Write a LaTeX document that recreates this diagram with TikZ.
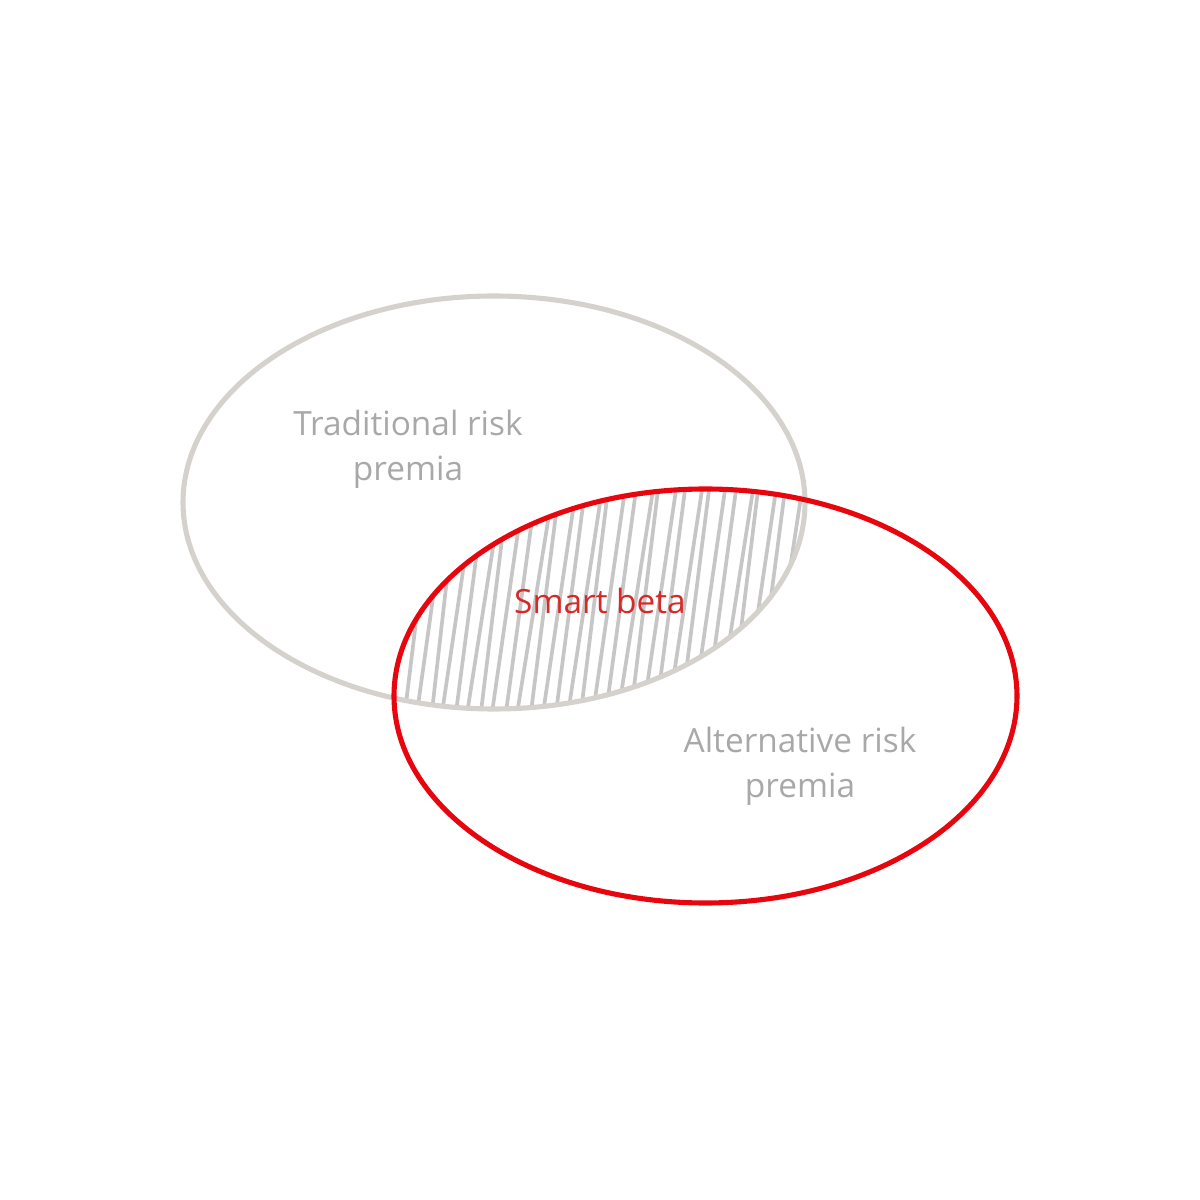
\documentclass[tikz,border=0pt]{standalone}
\usepackage{fontspec}
\setmainfont{Open Sans}
\definecolor{ringgray}{HTML}{D5D2CD}
\definecolor{hatchgray}{HTML}{C6C6C6}
\definecolor{labelgray}{HTML}{A8A8A8}
\definecolor{ringred}{HTML}{E8060E}
\definecolor{labelred}{HTML}{D42A2A}
\tikzset{
  ring/.style = {line width = 1.45pt},
  hatchline/.style = {hatchgray, line width = 1.05pt, line cap = round},
  setlabel/.style = {align = center, font = \fontsize{9.5}{12.8}\selectfont}
}
\begin{document}
\begin{tikzpicture}
  \useasboundingbox (0,0) rectangle (12,12);

  \coordinate (trad) at (4.94,6.975);
  \coordinate (alt) at (7.055,5.04);

  % hatching of the overlap
  \begin{scope}
    \clip (trad) ellipse [x radius = 3.11, y radius = 2.065];
    \clip (alt) ellipse [x radius = 3.115, y radius = 2.07];
    \foreach \x/\d in {4.10/0.22,4.22/0.26,4.37/0.20,4.47/0.28,4.61/0.24,4.72/0.30,
                       4.86/0.22,4.97/0.27,5.11/0.25,5.22/0.31,5.36/0.23,5.48/0.28,
                       5.61/0.24,5.73/0.29,5.86/0.22,5.98/0.27,6.11/0.25,6.23/0.30,
                       6.36/0.22,6.48/0.28,6.61/0.24,6.73/0.29,6.86/0.23,6.98/0.27,
                       7.11/0.25,7.23/0.30,7.36/0.22,7.48/0.28,7.61/0.24,7.73/0.29,
                       7.86/0.23,7.98/0.27,8.11/0.25,8.23/0.28}
      \draw[hatchline] (\x+\d,7.1) -- (\x-0.06,4.8);
  \end{scope}

  \draw[ring, ringgray] (trad) ellipse [x radius = 3.11, y radius = 2.065];
  \draw[ring, ringred] (alt) ellipse [x radius = 3.115, y radius = 2.07];

  \node[setlabel, text = labelgray] (tradlabel) at (4.08,7.51) {Traditional risk\\premia};
  \node[setlabel, text = labelred] (smartlabel) at (6.0,5.99) {Smart beta};
  \node[setlabel, text = labelgray] (altlabel) at (8.0,4.34) {Alternative risk\\premia};
\end{tikzpicture}
\end{document}
